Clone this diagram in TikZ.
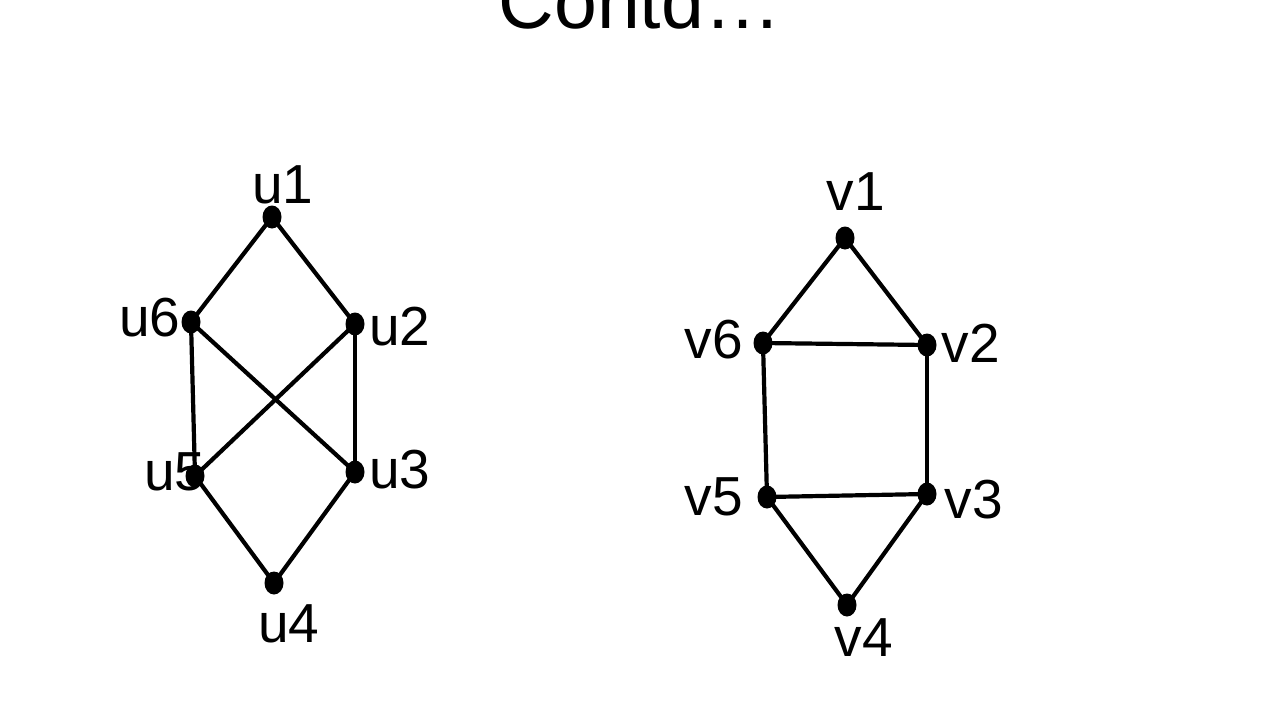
\documentclass[tikz,border=0pt]{standalone}
\usepackage{fontspec}
\usetikzlibrary{shapes.geometric}
\setmainfont{Liberation Sans}
\begin{document}
\begin{tikzpicture}[x=1pt,y=-1pt,
  dot/.style={ellipse,fill=black,inner sep=0pt,minimum width=19pt,minimum height=23pt},
  lab/.style={font=\fontsize{55}{55}\selectfont,inner sep=0pt},
  edge/.style={line width=4.2pt}]
\useasboundingbox (0,0) rectangle (1280,720);
\node[font=\fontsize{77}{77}\selectfont,anchor=base,inner sep=0pt] (t) at (640,28) {Contd…};
\foreach \n/\x/\y in {u1/272/217,u6/191/322,u2/355/324,u5/195/476,u3/355/472,u4/274/583,
  v1/845/238,v6/763/343,v2/927/345,v5/767/497,v3/927/494,v4/847/605}
  \node[dot] (\n) at (\x,\y) {};
\foreach \a/\b in {u1/u6,u1/u2,u6/u5,u6/u3,u2/u5,u2/u3,u5/u4,u3/u4,
  v1/v6,v1/v2,v6/v2,v6/v5,v2/v3,v5/v3,v5/v4,v3/v4}
  \draw[edge] (\a.center) -- (\b.center);
\foreach \n/\x/\y in {u1/283/185,u6/150/318,u2/400/327,u5/175/472,u3/400/470,u4/289/624,
  v1/856/192,v6/714/340,v2/971/343,v5/714/497,v3/974/500,v4/864/638}
  \node[lab] (l\n) at (\x,\y) {\n};
\end{tikzpicture}
\end{document}
